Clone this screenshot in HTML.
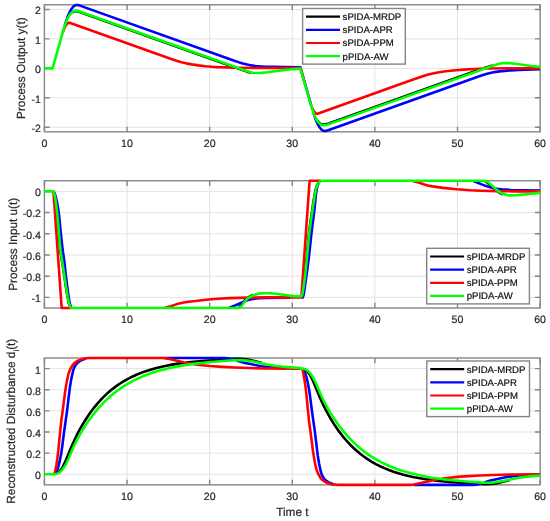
<!DOCTYPE html><html><head><meta charset="utf-8"><style>html,body{margin:0;padding:0;background:#fff;}svg{display:block;}text{text-rendering:geometricPrecision;stroke:#262626;stroke-width:0.2px;font-family:"Liberation Sans",Arial,sans-serif;}</style></head><body>
<svg width="550" height="521" viewBox="0 0 550 521">
<rect width="550" height="521" fill="#fff"/>
<path d="M127.02 4.80V131.85 M209.64 4.80V131.85 M292.26 4.80V131.85 M374.88 4.80V131.85 M457.50 4.80V131.85 M44.40 127.25H540.12 M44.40 97.80H540.12 M44.40 68.35H540.12 M44.40 38.90H540.12 M44.40 9.45H540.12" stroke="#e3e3e3" stroke-width="1" fill="none"/>
<path d="M44.40 131.85v-5.2M44.40 4.80v5.2 M127.02 131.85v-5.2M127.02 4.80v5.2 M209.64 131.85v-5.2M209.64 4.80v5.2 M292.26 131.85v-5.2M292.26 4.80v5.2 M374.88 131.85v-5.2M374.88 4.80v5.2 M457.50 131.85v-5.2M457.50 4.80v5.2 M540.12 131.85v-5.2M540.12 4.80v5.2 M44.40 127.25h5.2M540.12 127.25h-5.2 M44.40 97.80h5.2M540.12 97.80h-5.2 M44.40 68.35h5.2M540.12 68.35h-5.2 M44.40 38.90h5.2M540.12 38.90h-5.2 M44.40 9.45h5.2M540.12 9.45h-5.2" stroke="#858585" stroke-width="1.4" fill="none"/>
<rect x="44.40" y="4.80" width="495.72" height="127.05" stroke="#858585" stroke-width="1.4" fill="none"/>
<path d="M72.33 12.48 L73.81 11.57 L75.30 11.16 L76.87 11.20 L78.94 11.75 L235.17 67.43 M236.82 68.02 L247.07 71.64 L249.21 72.29 L251.03 72.71 M317.29 120.53 L318.37 121.88 L319.52 123.01 L320.68 123.84 L321.84 124.36 L322.99 124.60 L324.15 124.60 L325.64 124.36 L327.46 123.86 L474.27 71.56 L481.96 68.95 M483.86 68.32 L492.70 65.44" stroke="#000000" stroke-width="2.6" fill="none" stroke-linejoin="round" stroke-linecap="butt"/>
<path d="M64.72 25.54 L66.54 19.85 L68.11 15.53 L69.60 12.20 L71.09 9.57 L72.82 7.21 L73.56 6.44 L74.39 5.80 L75.22 5.36 L76.04 5.09 L76.95 4.99 L77.86 5.07 L78.94 5.33 L80.59 5.88 L235.00 60.92 L239.30 62.39 L242.85 63.47 L247.23 64.59 L251.20 65.40 L255.33 66.00 L259.54 66.38 L265.33 66.68 L272.60 66.91 L300.44 67.33 L311.10 105.05 M313.49 113.10 L315.06 117.67 L316.63 121.67 L318.12 124.84 L319.52 127.20 L321.18 129.23 L322.00 129.99 L322.75 130.51 L323.41 130.82 L324.07 130.97 L324.89 130.99 L325.80 130.87 L327.13 130.54 L328.86 129.96 L479.97 76.08 L486.17 74.06 L490.30 72.99 L494.68 72.10 L499.39 71.38 L504.35 70.84 L510.87 70.34 L518.64 69.91 L540.12 69.15" stroke="#0000ff" stroke-width="2.6" fill="none" stroke-linejoin="round" stroke-linecap="butt"/>
<path d="M62.82 32.30 L63.65 29.97 L64.56 27.78 L65.39 26.13 L66.21 24.80 L67.12 23.72 L67.95 23.08 L68.77 22.75 L69.60 22.76 L170.56 58.72 L176.43 60.70 L181.47 62.19 L186.26 63.35 L191.88 64.39 L198.40 65.35 L205.67 66.19 L211.95 66.74 L217.90 67.12 L236.57 67.73 M238.31 67.77 L262.76 68.06 L300.44 68.09 L304.32 81.75 M311.10 105.25 L312.67 109.12 L313.49 110.69 L314.32 111.94 L315.06 112.79 L315.89 113.43 L316.72 113.74 L317.54 113.74 L411.81 80.02 L422.06 76.46 L428.25 74.58 L432.88 73.45 L437.75 72.51 L443.87 71.58 L450.39 70.80 L458.90 69.97 L466.51 69.40 L474.93 68.93 L483.94 68.61 M485.67 68.56 L508.15 68.26 L540.12 68.34" stroke="#ff0000" stroke-width="2.6" fill="none" stroke-linejoin="round" stroke-linecap="butt"/>
<path d="M44.40 68.35 L52.58 68.35 L63.24 30.62 L65.14 24.59 L66.79 20.22 L67.95 17.78 L69.10 15.85 L70.51 13.95 L71.91 12.48 L73.23 11.50 L74.56 10.90 L75.88 10.68 L77.37 10.83 L80.09 11.66 L245.74 70.71 L250.37 72.20 L252.77 72.70 L255.25 72.96 L258.22 73.02 L261.61 72.88 L267.06 72.33 L280.94 70.44 L286.72 69.74 L293.83 69.08 L300.44 68.65 L311.10 105.50 L312.91 111.17 L314.57 115.60 L315.64 117.98 L316.63 119.82 L317.71 121.45 L318.86 122.84 L320.02 123.91 L321.26 124.71 L322.50 125.17 L323.82 125.32 L324.89 125.23 L326.22 124.97 L329.77 123.85 L491.37 66.25 L495.09 64.96 L497.65 64.19 L500.55 63.54 L503.35 63.16 L506.41 63.02 L509.55 63.11 L515.17 63.68 L531.28 65.92 L540.12 66.88" stroke="#00ff00" stroke-width="2.6" fill="none" stroke-linejoin="round" stroke-linecap="butt"/>
<text x="44.40" y="146.95" font-size="10.6" fill="#262626" text-anchor="middle">0</text>
<text x="127.02" y="146.95" font-size="10.6" fill="#262626" text-anchor="middle">10</text>
<text x="209.64" y="146.95" font-size="10.6" fill="#262626" text-anchor="middle">20</text>
<text x="292.26" y="146.95" font-size="10.6" fill="#262626" text-anchor="middle">30</text>
<text x="374.88" y="146.95" font-size="10.6" fill="#262626" text-anchor="middle">40</text>
<text x="457.50" y="146.95" font-size="10.6" fill="#262626" text-anchor="middle">50</text>
<text x="540.12" y="146.95" font-size="10.6" fill="#262626" text-anchor="middle">60</text>
<text x="41.0" y="132.15" font-size="10.6" fill="#262626" text-anchor="end">-2</text>
<text x="41.0" y="102.70" font-size="10.6" fill="#262626" text-anchor="end">-1</text>
<text x="41.0" y="73.25" font-size="10.6" fill="#262626" text-anchor="end">0</text>
<text x="41.0" y="43.80" font-size="10.6" fill="#262626" text-anchor="end">1</text>
<text x="41.0" y="14.35" font-size="10.6" fill="#262626" text-anchor="end">2</text>
<path d="M127.02 180.75V308.00 M209.64 180.75V308.00 M292.26 180.75V308.00 M374.88 180.75V308.00 M457.50 180.75V308.00 M44.40 297.40H540.12 M44.40 276.19H540.12 M44.40 254.98H540.12 M44.40 233.77H540.12 M44.40 212.56H540.12 M44.40 191.35H540.12" stroke="#e3e3e3" stroke-width="1" fill="none"/>
<path d="M44.40 308.00v-5.2M44.40 180.75v5.2 M127.02 308.00v-5.2M127.02 180.75v5.2 M209.64 308.00v-5.2M209.64 180.75v5.2 M292.26 308.00v-5.2M292.26 180.75v5.2 M374.88 308.00v-5.2M374.88 180.75v5.2 M457.50 308.00v-5.2M457.50 180.75v5.2 M540.12 308.00v-5.2M540.12 180.75v5.2 M44.40 297.40h5.2M540.12 297.40h-5.2 M44.40 276.19h5.2M540.12 276.19h-5.2 M44.40 254.98h5.2M540.12 254.98h-5.2 M44.40 233.77h5.2M540.12 233.77h-5.2 M44.40 212.56h5.2M540.12 212.56h-5.2 M44.40 191.35h5.2M540.12 191.35h-5.2" stroke="#858585" stroke-width="1.4" fill="none"/>
<rect x="44.40" y="180.75" width="495.72" height="127.25" stroke="#858585" stroke-width="1.4" fill="none"/>
<path d="M53.57 191.79 L54.23 194.04 L55.14 198.27 L55.80 202.68 L56.63 209.34 L57.54 217.89 L60.02 246.68 L60.76 253.02 L67.20 294.90 L68.61 302.08 L69.02 303.63 L69.85 306.00 M238.31 307.46 L239.38 306.82 L240.54 305.84 L243.84 301.61 M244.26 301.06 L245.58 299.58 L247.65 297.89 M248.31 297.45 L251.20 295.81 L253.59 294.86 M301.35 296.20 L301.68 295.58 L302.01 294.54 L302.75 290.92 L304.90 275.57 L305.56 269.46 L308.04 242.64 L308.95 233.77 L310.35 222.81 L313.00 204.77 L314.40 196.06 L315.56 189.97 L316.22 187.64 L316.88 185.85 L317.79 183.89 L318.62 182.67 M484.85 181.28 L486.33 181.93 L487.41 182.66 L489.97 184.86 L493.11 187.80 M493.69 188.33 L495.34 189.79 L496.83 190.88 M497.41 191.29 L499.22 192.51 L500.63 193.31 L501.95 193.90 L503.27 194.29" stroke="#000000" stroke-width="2.6" fill="none" stroke-linejoin="round" stroke-linecap="butt"/>
<path d="M53.57 191.43 L54.07 192.15 L54.89 194.10 L55.80 196.97 L57.04 202.32 L58.20 208.88 L59.19 216.34 L60.76 232.58 L62.25 246.50 L62.91 251.70 L64.23 260.39 L65.88 275.84 L67.62 289.74 L68.61 296.62 L69.68 302.93 L70.67 306.24 L71.09 307.13 L71.50 307.56 M228.64 307.69 L230.54 307.21 L234.26 305.84 L245.33 300.81 M245.66 300.69 L248.80 299.73 L251.36 299.13 L254.92 298.62 L258.55 298.29 L267.23 297.93 L290.11 297.75 M301.18 297.40 L302.59 297.40 L302.75 297.29 L303.00 296.87 L303.58 294.87 L304.32 290.69 L307.38 269.06 L308.87 257.40 L311.43 233.42 L314.15 212.20 L316.05 193.25 L316.47 190.68 L317.21 187.20 L317.87 184.89 L318.53 183.29 M473.12 181.05 L474.68 181.50 L482.37 184.63 L486.00 185.93 L489.80 187.12 L494.68 188.36 M495.26 188.48 L497.49 188.85 L502.20 189.37 L511.04 189.98 L522.44 190.37 L540.12 190.61" stroke="#0000ff" stroke-width="2.6" fill="none" stroke-linejoin="round" stroke-linecap="butt"/>
<path d="M53.24 191.35 L53.41 191.35 L53.49 192.22 L61.67 308.00 L71.33 308.00 M164.28 307.69 L166.43 307.31 L170.73 306.20 L177.67 303.86 L179.24 303.40 L183.61 302.52 L188.90 301.76 L206.34 299.79 L217.41 298.81 L229.47 298.16 L248.72 297.65 M249.38 297.64 L266.15 297.41 L301.35 297.40 L309.61 180.75 L320.85 180.75 M412.39 181.06 L414.54 181.44 L417.59 182.29 L420.65 183.24 L424.37 184.54 L427.76 185.52 L432.30 186.35 L442.96 187.89 L456.84 189.24 L470.64 190.22 L481.05 190.69 L497.98 191.11 M498.64 191.12 L513.27 191.34 L540.12 191.35" stroke="#ff0000" stroke-width="2.6" fill="none" stroke-linejoin="round" stroke-linecap="butt"/>
<path d="M44.40 191.35 L53.41 191.37 L53.65 191.70 L53.90 192.34 L54.73 195.59 L55.22 198.04 L55.80 201.78 L57.29 214.07 L60.02 245.34 L60.59 250.88 L66.54 290.05 L67.70 296.97 L68.53 301.16 L69.10 303.50 L69.93 305.90 L70.51 307.10 L70.76 307.41 L71.25 307.74 L72.08 308.00 L237.07 308.00 L238.06 307.84 L239.30 307.46 L240.13 306.99 L241.12 306.24 L242.03 305.27 L246.08 300.07 L247.56 298.71 L249.21 297.50 L251.53 296.15 L253.51 295.22 L256.82 294.18 L259.21 293.61 L260.95 293.39 L263.76 293.31 L268.55 293.26 L271.19 293.36 L275.65 293.80 L293.66 296.12 L296.80 296.33 L301.43 296.32 L301.76 295.95 L302.17 294.84 L302.92 291.40 L303.74 286.03 L305.15 275.57 L305.81 269.46 L308.54 240.06 L309.36 232.36 L311.10 219.33 L313.16 205.32 L314.48 197.02 L315.72 190.31 L316.39 187.90 L317.05 186.05 L317.87 184.21 L318.62 182.97 L319.94 181.53 L320.43 181.19 L321.01 181.00 L322.83 180.75 L482.86 180.76 L485.34 181.07 L486.42 181.44 L487.66 182.02 L488.73 182.79 L490.88 184.64 L496.25 189.58 L499.72 192.08 L501.45 193.14 L502.94 193.83 L507.15 194.95 L508.97 195.26 L510.62 195.38 L513.68 195.32 L517.23 195.12 L529.30 194.06 L540.12 192.62" stroke="#00ff00" stroke-width="2.6" fill="none" stroke-linejoin="round" stroke-linecap="butt"/>
<text x="44.40" y="323.10" font-size="10.6" fill="#262626" text-anchor="middle">0</text>
<text x="127.02" y="323.10" font-size="10.6" fill="#262626" text-anchor="middle">10</text>
<text x="209.64" y="323.10" font-size="10.6" fill="#262626" text-anchor="middle">20</text>
<text x="292.26" y="323.10" font-size="10.6" fill="#262626" text-anchor="middle">30</text>
<text x="374.88" y="323.10" font-size="10.6" fill="#262626" text-anchor="middle">40</text>
<text x="457.50" y="323.10" font-size="10.6" fill="#262626" text-anchor="middle">50</text>
<text x="540.12" y="323.10" font-size="10.6" fill="#262626" text-anchor="middle">60</text>
<text x="41.0" y="302.30" font-size="10.6" fill="#262626" text-anchor="end">-1</text>
<text x="41.0" y="281.09" font-size="10.6" fill="#262626" text-anchor="end">-0.8</text>
<text x="41.0" y="259.88" font-size="10.6" fill="#262626" text-anchor="end">-0.6</text>
<text x="41.0" y="238.67" font-size="10.6" fill="#262626" text-anchor="end">-0.4</text>
<text x="41.0" y="217.46" font-size="10.6" fill="#262626" text-anchor="end">-0.2</text>
<text x="41.0" y="196.25" font-size="10.6" fill="#262626" text-anchor="end">0</text>
<path d="M127.02 358.00V484.87 M209.64 358.00V484.87 M292.26 358.00V484.87 M374.88 358.00V484.87 M457.50 358.00V484.87 M44.40 474.30H540.12 M44.40 453.16H540.12 M44.40 432.02H540.12 M44.40 410.88H540.12 M44.40 389.74H540.12 M44.40 368.60H540.12" stroke="#e3e3e3" stroke-width="1" fill="none"/>
<path d="M44.40 484.87v-5.2M44.40 358.00v5.2 M127.02 484.87v-5.2M127.02 358.00v5.2 M209.64 484.87v-5.2M209.64 358.00v5.2 M292.26 484.87v-5.2M292.26 358.00v5.2 M374.88 484.87v-5.2M374.88 358.00v5.2 M457.50 484.87v-5.2M457.50 358.00v5.2 M540.12 484.87v-5.2M540.12 358.00v5.2 M44.40 474.30h5.2M540.12 474.30h-5.2 M44.40 453.16h5.2M540.12 453.16h-5.2 M44.40 432.02h5.2M540.12 432.02h-5.2 M44.40 410.88h5.2M540.12 410.88h-5.2 M44.40 389.74h5.2M540.12 389.74h-5.2 M44.40 368.60h5.2M540.12 368.60h-5.2" stroke="#858585" stroke-width="1.4" fill="none"/>
<rect x="44.40" y="358.00" width="495.72" height="126.87" stroke="#858585" stroke-width="1.4" fill="none"/>
<path d="M56.79 473.50 L58.45 472.42 L60.02 470.88 L61.58 468.79 L63.15 466.14 L65.30 461.67 L71.42 446.80 L75.55 437.72 L77.94 432.95 L80.50 428.20 L83.15 423.62 L85.88 419.22 L88.60 415.10 L91.33 411.26 L94.14 407.57 L96.95 404.14 L99.92 400.76 L102.89 397.63 L105.95 394.64 L109.09 391.81 L112.64 388.87 L116.28 386.12 L120.08 383.51 L123.96 381.09 L128.01 378.80 L132.14 376.70 L136.44 374.74 L140.98 372.89 L145.61 371.21 L150.48 369.64 L155.52 368.21 L160.73 366.91 L166.26 365.71 L172.05 364.62 L178.16 363.63 L184.52 362.75 M186.09 362.56 L193.69 361.71 L201.71 360.98 L230.46 358.94 M232.28 358.84 L236.24 358.71 L239.71 358.74 L242.94 358.92 L246.16 359.28 L249.13 359.77 L252.11 360.40 L261.94 362.96 M304.65 369.40 L306.31 370.48 L307.88 372.02 L309.44 374.11 L311.01 376.76 L313.16 381.23 L319.28 396.10 L323.41 405.18 L325.80 409.95 L328.36 414.70 L331.01 419.28 L333.74 423.68 L336.46 427.80 L339.19 431.64 L342.00 435.33 L344.81 438.76 L347.78 442.14 L350.75 445.27 L353.81 448.26 L356.95 451.09 L360.50 454.03 L364.14 456.78 L367.94 459.39 L371.82 461.81 L375.87 464.10 L380.00 466.20 L384.30 468.16 L388.84 470.01 L393.47 471.69 L398.34 473.26 L403.38 474.69 L408.59 475.99 L414.12 477.19 L419.91 478.28 L426.02 479.27 L432.38 480.15 M433.95 480.34 L441.55 481.19 L449.57 481.92 L478.32 483.96 M480.14 484.06 L484.10 484.19 L487.57 484.16 L490.80 483.98 L494.02 483.62 L496.99 483.13 L499.97 482.50 L509.80 479.94" stroke="#000000" stroke-width="2.6" fill="none" stroke-linejoin="round" stroke-linecap="butt"/>
<path d="M55.47 474.06 L55.88 473.30 L57.12 470.42 L58.53 466.03 L59.93 460.12 L61.34 452.68 L62.16 447.01 L63.98 432.62 L66.96 411.52 L69.85 387.70 L71.25 379.12 L72.99 371.21 L73.73 368.80 L74.72 366.64 L75.96 364.60 L77.20 363.15 L78.94 361.67 L80.84 360.50 L83.56 359.34 L85.88 358.67 M165.85 358.03 L224.51 358.04 L227.40 358.23 L229.88 358.53 L231.95 359.03 L234.92 359.98 M236.41 360.45 L242.44 362.32 L244.84 362.96 L250.70 364.06 L257.72 365.58 L261.69 366.25 L267.14 366.99 L273.51 367.60 L278.88 367.94 L286.64 368.24 M303.33 368.84 L303.74 369.60 L304.98 372.48 L306.39 376.87 L307.79 382.78 L309.20 390.22 L310.02 395.89 L311.84 410.28 L314.82 431.38 L317.71 455.20 L319.11 463.78 L320.85 471.69 L321.59 474.10 L322.58 476.26 L323.82 478.30 L325.06 479.75 L326.80 481.23 L328.70 482.40 L331.42 483.56 L333.74 484.23 M413.71 484.87 L472.37 484.86 L475.26 484.67 L477.74 484.37 L479.81 483.87 L482.78 482.92 M484.27 482.45 L490.30 480.58 L492.70 479.94 L498.56 478.84 L505.58 477.32 L509.55 476.65 L515.00 475.91 L521.37 475.30 L526.74 474.96 L534.50 474.66" stroke="#0000ff" stroke-width="2.6" fill="none" stroke-linejoin="round" stroke-linecap="butt"/>
<path d="M54.07 474.21 L54.40 473.60 L54.89 472.19 L55.39 470.27 L56.46 464.40 L57.29 458.93 L58.36 450.22 L60.02 432.84 L61.34 420.39 L62.66 410.88 L64.89 393.44 L65.88 386.88 L67.04 380.36 L68.28 374.70 L69.10 372.10 L70.01 369.81 L71.33 367.22 L72.66 365.08 L73.73 363.73 L75.05 362.54 L76.46 361.52 L77.94 360.67 L79.60 359.95 L81.74 359.17 L84.47 358.51 L89.01 358.07 L162.63 358.03 L164.45 358.16 L167.26 358.59 L186.75 362.99 L191.38 363.87 M193.45 364.18 L202.04 365.28 L209.89 366.06 L222.12 366.91 L234.76 367.54 L264.42 368.46 L300.69 368.60 M301.93 368.69 L302.26 369.30 L302.75 370.71 L303.25 372.63 L304.32 378.50 L305.15 383.97 L306.22 392.68 L307.88 410.06 L309.20 422.51 L310.52 432.02 L312.75 449.46 L313.74 456.02 L314.90 462.54 L316.14 468.20 L316.96 470.80 L317.87 473.09 L319.19 475.68 L320.52 477.82 L321.59 479.17 L322.91 480.36 L324.32 481.38 L325.80 482.23 L327.46 482.95 L329.60 483.73 L332.33 484.39 L336.87 484.83 L410.49 484.87 L412.31 484.74 L415.12 484.31 L434.61 479.91 L439.24 479.03 M441.31 478.72 L449.49 477.67 L457.17 476.89 L468.24 476.09 L479.48 475.49 L492.28 475.00 L510.96 474.46 L540.12 474.31" stroke="#ff0000" stroke-width="2.6" fill="none" stroke-linejoin="round" stroke-linecap="butt"/>
<path d="M44.40 474.30 L54.64 474.30 L55.64 474.13 L57.29 473.63 L58.78 472.88 L60.18 471.86 L61.58 470.51 L62.74 469.13 L63.98 467.37 L65.22 465.33 L66.46 463.02 L68.44 458.79 L72.49 449.34 L74.47 444.95 L76.87 440.06 L79.43 435.28 L82.41 430.20 L85.54 425.24 L88.85 420.39 L92.32 415.66 L96.29 410.68 L100.33 406.04 L104.55 401.65 L108.84 397.58 L113.31 393.77 L117.93 390.20 L122.72 386.88 L127.76 383.76 L132.56 381.11 L137.60 378.61 L142.80 376.32 L148.17 374.23 L153.79 372.30 L159.65 370.53 L165.85 368.90 L172.30 367.43 L178.99 366.12 L186.01 364.94 L193.45 363.89 L201.38 362.94 L211.04 362.00 L223.19 361.02 L234.01 360.28 L239.71 360.11 L244.92 360.34 L250.70 361.07 L256.65 362.16 L268.63 364.72 L276.48 365.95 L281.68 366.56 L287.47 367.10 L300.11 367.95 L300.94 368.60 L302.59 368.60 L304.65 369.09 L305.97 369.65 L307.21 370.40 L308.78 371.71 L310.35 373.45 L311.92 375.66 L313.49 378.31 L315.81 383.00 L320.76 394.50 L323.49 400.37 L326.71 406.58 L330.35 412.84 L334.31 419.03 L338.44 424.92 L342.66 430.41 L347.04 435.58 L352.08 440.92 L357.28 445.83 L362.73 450.39 L368.44 454.58 L374.38 458.41 L380.58 461.88 L387.11 465.04 L394.05 467.93 L398.10 469.41 L402.31 470.82 L406.61 472.12 L411.07 473.34 L420.49 475.54 L430.57 477.43 L441.14 478.99 L452.54 480.30 L466.42 481.52 L482.45 482.65 L486.09 482.78 L489.31 482.76 L492.28 482.60 L495.51 482.27 L502.45 481.15 L515.17 478.44 L520.79 477.45 L529.54 476.34 L540.12 475.43" stroke="#00ff00" stroke-width="2.6" fill="none" stroke-linejoin="round" stroke-linecap="butt"/>
<text x="44.40" y="499.97" font-size="10.6" fill="#262626" text-anchor="middle">0</text>
<text x="127.02" y="499.97" font-size="10.6" fill="#262626" text-anchor="middle">10</text>
<text x="209.64" y="499.97" font-size="10.6" fill="#262626" text-anchor="middle">20</text>
<text x="292.26" y="499.97" font-size="10.6" fill="#262626" text-anchor="middle">30</text>
<text x="374.88" y="499.97" font-size="10.6" fill="#262626" text-anchor="middle">40</text>
<text x="457.50" y="499.97" font-size="10.6" fill="#262626" text-anchor="middle">50</text>
<text x="540.12" y="499.97" font-size="10.6" fill="#262626" text-anchor="middle">60</text>
<text x="41.0" y="479.20" font-size="10.6" fill="#262626" text-anchor="end">0</text>
<text x="41.0" y="458.06" font-size="10.6" fill="#262626" text-anchor="end">0.2</text>
<text x="41.0" y="436.92" font-size="10.6" fill="#262626" text-anchor="end">0.4</text>
<text x="41.0" y="415.78" font-size="10.6" fill="#262626" text-anchor="end">0.6</text>
<text x="41.0" y="394.64" font-size="10.6" fill="#262626" text-anchor="end">0.8</text>
<text x="41.0" y="373.50" font-size="10.6" fill="#262626" text-anchor="end">1</text>
<text transform="translate(25.0 68.15) rotate(-90)" font-size="11.8" fill="#262626" text-anchor="middle">Process Output y(t)</text>
<text transform="translate(16.5 244.3) rotate(-90)" font-size="11.8" fill="#262626" text-anchor="middle">Process Input u(t)</text>
<text transform="translate(15.3 421.2) rotate(-90)" font-size="11.8" fill="#262626" text-anchor="middle">Reconstructed Disturbance d<tspan font-size="7.8" dy="3.4">i</tspan><tspan dy="-3.4">(t)</tspan></text>
<text x="292.4" y="515.5" font-size="11.8" fill="#262626" text-anchor="middle">Time t</text>
<rect x="302.60" y="8.50" width="102.7" height="55.6" fill="#fff" stroke="#858585" stroke-width="1.4"/>
<path d="M306.00 16.70H340.00" stroke="#000000" stroke-width="2.2"/>
<text x="342.60" y="20.10" font-size="9.6" fill="#000">sPIDA-MRDP</text>
<path d="M306.00 29.85H340.00" stroke="#0000ff" stroke-width="2.2"/>
<text x="342.60" y="33.25" font-size="9.6" fill="#000">sPIDA-APR</text>
<path d="M306.00 43.00H340.00" stroke="#ff0000" stroke-width="2.2"/>
<text x="342.60" y="46.40" font-size="9.6" fill="#000">sPIDA-PPM</text>
<path d="M306.00 56.15H340.00" stroke="#00ff00" stroke-width="2.2"/>
<text x="342.60" y="59.55" font-size="9.6" fill="#000">pPIDA-AW</text>
<rect x="426.70" y="248.30" width="102.7" height="55.6" fill="#fff" stroke="#858585" stroke-width="1.4"/>
<path d="M430.10 256.50H464.10" stroke="#000000" stroke-width="2.2"/>
<text x="466.70" y="259.90" font-size="9.6" fill="#000">sPIDA-MRDP</text>
<path d="M430.10 269.65H464.10" stroke="#0000ff" stroke-width="2.2"/>
<text x="466.70" y="273.05" font-size="9.6" fill="#000">sPIDA-APR</text>
<path d="M430.10 282.80H464.10" stroke="#ff0000" stroke-width="2.2"/>
<text x="466.70" y="286.20" font-size="9.6" fill="#000">sPIDA-PPM</text>
<path d="M430.10 295.95H464.10" stroke="#00ff00" stroke-width="2.2"/>
<text x="466.70" y="299.35" font-size="9.6" fill="#000">pPIDA-AW</text>
<rect x="426.80" y="361.00" width="102.7" height="55.6" fill="#fff" stroke="#858585" stroke-width="1.4"/>
<path d="M430.20 369.20H464.20" stroke="#000000" stroke-width="2.2"/>
<text x="466.80" y="372.60" font-size="9.6" fill="#000">sPIDA-MRDP</text>
<path d="M430.20 382.35H464.20" stroke="#0000ff" stroke-width="2.2"/>
<text x="466.80" y="385.75" font-size="9.6" fill="#000">sPIDA-APR</text>
<path d="M430.20 395.50H464.20" stroke="#ff0000" stroke-width="2.2"/>
<text x="466.80" y="398.90" font-size="9.6" fill="#000">sPIDA-PPM</text>
<path d="M430.20 408.65H464.20" stroke="#00ff00" stroke-width="2.2"/>
<text x="466.80" y="412.05" font-size="9.6" fill="#000">pPIDA-AW</text>
</svg></body></html>
